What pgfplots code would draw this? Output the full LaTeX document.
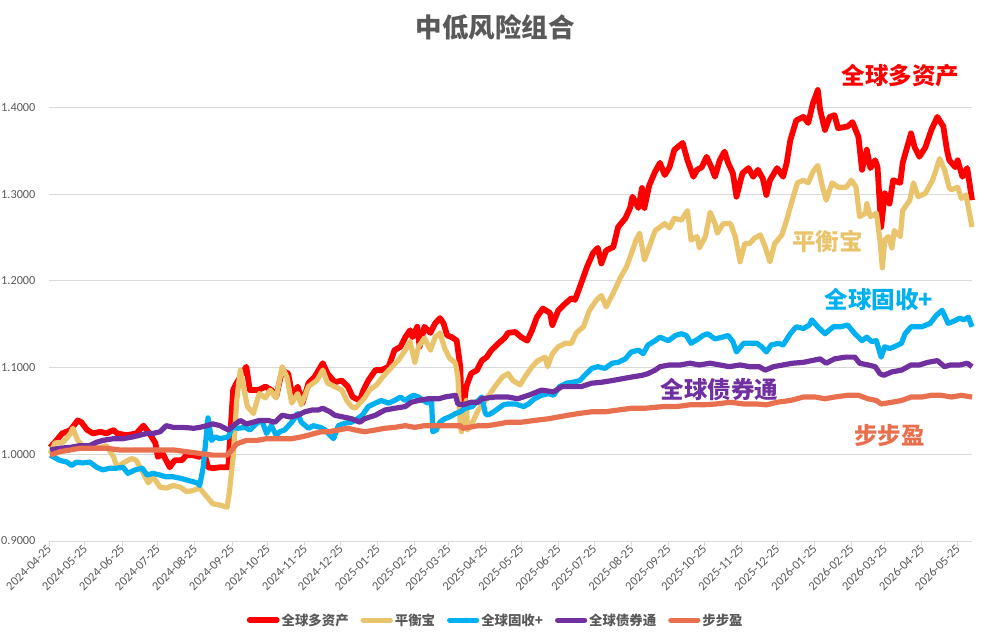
\documentclass[border=0pt]{standalone}
\usepackage{pgfplots}
\pgfplotsset{compat=1.18}
\usepackage{fontspec}
\setmainfont{Carlito}
\newfontfamily\cjk{Noto Sans CJK SC}
\definecolor{sred}{HTML}{FF0000}
\definecolor{sgold}{HTML}{E9C46C}
\definecolor{scyan}{HTML}{00B0F0}
\definecolor{spurple}{HTML}{7030A0}
\definecolor{sorange}{HTML}{E8704F}
\definecolor{labelgray}{HTML}{595959}
\definecolor{gridgray}{HTML}{D9D9D9}
\begin{document}
\begin{tikzpicture}
\path[use as bounding box] (-49pt,-91pt) rectangle (941pt,541pt);
\node[font=\cjk\bfseries\fontsize{26.5}{30}\selectfont, text=labelgray] at (446pt,514pt) {中低风险组合};
\begin{axis}[
  at={(0pt,0pt)}, anchor=south west,
  scale only axis, width=923pt, height=477pt,
  xmin=0, xmax=772, ymin=0.9, ymax=1.45,
  axis x line*=bottom, axis y line*=left,
  x axis line style={-, draw=gridgray, line width=0.8pt},
  y axis line style={draw=none},
  ytick={0.9,1.0,1.1,1.2,1.3,1.4},
  ymajorgrids, grid style={draw=gridgray, line width=0.8pt},
  ytick style={draw=none},
  yticklabel style={/pgf/number format/.cd, fixed, fixed zerofill, precision=4, assume math mode=true,
    /tikz/.cd, font=\fontsize{12.3}{14}\selectfont, text=labelgray, xshift=-5pt},
  xtick={0,30,61,91,122,153,183,214,244,275,306,334,365,395,426,456,487,518,548,579,609,640,671,699,730,760},
  xticklabels={2024-04-25,2024-05-25,2024-06-25,2024-07-25,2024-08-25,2024-09-25,2024-10-25,2024-11-25,2024-12-25,2025-01-25,2025-02-25,2025-03-25,2025-04-25,2025-05-25,2025-06-25,2025-07-25,2025-08-25,2025-09-25,2025-10-25,2025-11-25,2025-12-25,2026-01-25,2026-02-25,2026-03-25,2026-04-25,2026-05-25},
  xticklabel style={rotate=45, anchor=east, font=\fontsize{12.5}{14}\selectfont, text=labelgray, xshift=3pt, yshift=-1pt},
  tick align=outside, major tick length=5pt,
  xtick style={draw=gridgray, line width=0.8pt},
  legend style={at={(0.484,-0.166)}, anchor=center, legend columns=5, draw=none, fill=none,
    font=\cjk\bfseries\fontsize{13.4}{16}\selectfont, text=labelgray,
    /tikz/every even column/.append style={column sep=10pt}},
  legend image code/.code={\draw[#1, line cap=round] (0pt,0pt) -- (27pt,0pt);},
  every axis plot/.append style={line width=5.2pt, line join=round},
  clip=false,
]
% 全球多资产
\addplot[sred, line width=5.8pt] coordinates {
(1,1.008)(5,1.014)(11,1.024)(18,1.028)(24,1.039)(27,1.037)(32,1.028)(37,1.024)(43,1.026)(48,1.024)
(54,1.028)(57,1.024)(65,1.022)(73,1.024)(79,1.033)(84,1.024)(89,1.013)(91,0.997)(95,1.001)(101,0.985)
(105,0.993)(111,0.993)(115,0.999)(120,0.999)(126,0.997)(130,1.001)(133,0.985)(137,0.984)(143,0.985)(150,0.985)
(151,1.008)(154,1.074)(156,1.080)(165,1.101)(168,1.074)(175,1.074)(181,1.078)(186,1.074)(190,1.066)(195,1.097)
(200,1.093)(204,1.065)(208,1.078)(212,1.059)(217,1.082)(222,1.089)(229,1.105)(233,1.093)(239,1.083)(245,1.085)
(250,1.078)(254,1.066)(260,1.062)(263,1.074)(267,1.085)(273,1.097)(278,1.097)(284,1.101)(289,1.120)(294,1.124)
(298,1.135)(302,1.143)(304,1.135)(308,1.147)(310,1.124)(314,1.147)(319,1.140)(323,1.151)(327,1.157)(330,1.151)
(333,1.137)(337,1.135)(341,1.131)(344,1.101)(345,1.055)(346,1.047)(349,1.078)(353,1.093)(358,1.097)(362,1.108)
(366,1.112)(370,1.120)(376,1.128)(381,1.134)(384,1.140)(390,1.141)(395,1.135)(400,1.131)(404,1.143)(408,1.158)
(413,1.168)(419,1.163)(421,1.149)(426,1.166)(432,1.174)(437,1.180)(440,1.178)(444,1.193)(450,1.216)(455,1.232)
(459,1.238)(462,1.220)(466,1.235)(472,1.239)(476,1.262)(482,1.272)(486,1.284)(488,1.297)(493,1.284)(496,1.307)
(498,1.284)(502,1.310)(507,1.326)(511,1.336)(515,1.322)(519,1.331)(523,1.351)(530,1.359)(534,1.339)(539,1.320)
(542,1.328)(546,1.331)(550,1.343)(554,1.331)(557,1.320)(561,1.339)(565,1.349)(568,1.336)(572,1.324)(575,1.297)
(580,1.324)(585,1.330)(589,1.320)(593,1.328)(597,1.318)(600,1.299)(603,1.316)(609,1.330)(614,1.320)(617,1.336)
(620,1.362)(625,1.385)(631,1.389)(635,1.382)(639,1.405)(643,1.420)(645,1.397)(649,1.374)(653,1.389)(657,1.391)
(660,1.376)(668,1.378)(672,1.383)(677,1.366)(680,1.328)(684,1.351)(687,1.330)(691,1.339)(693,1.331)(696,1.262)
(699,1.301)(703,1.289)(706,1.316)(712,1.313)(714,1.336)(721,1.370)(724,1.354)(728,1.343)(733,1.354)(738,1.374)
(743,1.389)(748,1.378)(751,1.351)(753,1.339)(758,1.331)(760,1.339)(764,1.320)(768,1.330)(772,1.293)
};
\addlegendentry{全球多资产}
% 平衡宝
\addplot[sgold] coordinates {
(1,1.001)(5,1.013)(12,1.014)(18,1.024)(20,1.030)(24,1.016)(28,1.010)(34,1.008)(43,1.008)(48,1.010)
(54,0.997)(57,0.985)(62,0.990)(69,0.995)(73,0.993)(79,0.978)(83,0.967)(87,0.974)(93,0.962)(98,0.961)
(104,0.964)(110,0.962)(115,0.957)(120,0.958)(126,0.961)(132,0.951)(137,0.943)(144,0.941)(149,0.939)(151,0.958)
(154,0.997)(157,1.062)(160,1.097)(162,1.082)(166,1.055)(171,1.047)(174,1.062)(176,1.070)(181,1.065)(185,1.074)
(190,1.065)(195,1.101)(199,1.089)(203,1.059)(208,1.070)(211,1.057)(217,1.078)(224,1.085)(229,1.097)(233,1.082)
(239,1.078)(245,1.074)(249,1.062)(253,1.055)(256,1.053)(260,1.059)(264,1.065)(268,1.074)(274,1.080)(279,1.089)
(287,1.101)(292,1.108)(298,1.120)(302,1.130)(306,1.106)(309,1.124)(314,1.134)(319,1.120)(323,1.135)(327,1.140)
(331,1.122)(335,1.111)(340,1.105)(342,1.089)(344,1.031)(345,1.026)(348,1.051)(349,1.062)(350,1.028)(355,1.039)
(359,1.051)(365,1.062)(369,1.070)(373,1.078)(379,1.089)(384,1.093)(388,1.085)(394,1.080)(398,1.089)(404,1.101)
(409,1.108)(415,1.112)(417,1.101)(421,1.116)(426,1.124)(432,1.128)(437,1.128)(441,1.140)(447,1.147)(452,1.166)
(458,1.178)(462,1.183)(466,1.170)(472,1.186)(478,1.204)(483,1.216)(488,1.235)(491,1.247)(494,1.255)(498,1.224)
(502,1.239)(507,1.258)(511,1.262)(515,1.266)(519,1.261)(523,1.272)(529,1.270)(534,1.281)(537,1.247)(542,1.251)
(544,1.238)(549,1.251)(553,1.279)(557,1.266)(559,1.255)(564,1.266)(570,1.266)(574,1.251)(578,1.222)(582,1.243)
(586,1.243)(590,1.249)(595,1.253)(599,1.239)(603,1.222)(607,1.243)(613,1.253)(617,1.270)(621,1.290)(626,1.313)
(631,1.316)(635,1.313)(639,1.326)(643,1.333)(647,1.308)(650,1.293)(655,1.313)(660,1.308)(667,1.308)(671,1.316)
(675,1.308)(678,1.274)(683,1.278)(684,1.289)(687,1.274)(692,1.278)(695,1.247)(697,1.215)(699,1.247)(702,1.251)
(705,1.238)(707,1.258)(712,1.251)(714,1.281)(720,1.293)(723,1.313)(727,1.297)(733,1.301)(739,1.316)(745,1.341)
(749,1.328)(753,1.307)(755,1.305)(760,1.308)(763,1.295)(767,1.299)(772,1.262)
};
\addlegendentry{平衡宝}
% 全球固收+
\addplot[scyan] coordinates {
(1,0.999)(9,0.993)(15,0.991)(19,0.987)(23,0.991)(28,0.990)(34,0.991)(40,0.985)(45,0.982)(51,0.984)
(57,0.984)(62,0.985)(66,0.978)(72,0.982)(78,0.984)(82,0.976)(87,0.978)(93,0.976)(98,0.974)(104,0.974)
(111,0.972)(116,0.970)(124,0.967)(126,0.964)(129,0.985)(133,1.042)(136,1.016)(139,1.020)(143,1.018)(150,1.020)
(153,1.031)(158,1.030)(164,1.031)(168,1.028)(174,1.036)(178,1.039)(182,1.024)(186,1.033)(190,1.022)(193,1.026)
(197,1.028)(203,1.037)(208,1.047)(211,1.037)(217,1.030)(221,1.033)(227,1.031)(231,1.028)(235,1.022)(238,1.018)
(242,1.033)(248,1.036)(253,1.037)(256,1.039)(262,1.045)(267,1.055)(273,1.059)(278,1.062)(284,1.059)(289,1.062)
(294,1.066)(298,1.062)(302,1.066)(305,1.068)(309,1.066)(313,1.062)(317,1.059)(320,1.062)(321,1.026)(324,1.028)
(327,1.037)(331,1.041)(335,1.043)(340,1.047)(344,1.049)(348,1.053)(354,1.055)(359,1.062)(362,1.066)(365,1.047)
(367,1.045)(372,1.049)(376,1.053)(380,1.057)(384,1.058)(390,1.058)(397,1.055)(401,1.058)(406,1.064)(412,1.068)
(418,1.070)(422,1.068)(427,1.078)(433,1.082)(438,1.083)(444,1.085)(448,1.091)(454,1.099)(459,1.101)(465,1.099)
(471,1.105)(476,1.106)(482,1.110)(487,1.118)(493,1.120)(497,1.116)(501,1.126)(507,1.131)(511,1.135)(518,1.131)
(524,1.137)(529,1.139)(533,1.137)(537,1.128)(543,1.133)(547,1.137)(551,1.139)(557,1.133)(563,1.135)(568,1.137)
(572,1.130)(575,1.118)(581,1.128)(586,1.128)(592,1.128)(596,1.124)(600,1.118)(604,1.126)(610,1.128)(614,1.126)
(620,1.139)(625,1.147)(631,1.145)(636,1.149)(638,1.155)(643,1.147)(649,1.139)(656,1.147)(662,1.147)(668,1.149)
(674,1.139)(680,1.131)(684,1.135)(688,1.130)(692,1.131)(696,1.112)(699,1.124)(703,1.122)(707,1.124)(713,1.128)
(716,1.139)(721,1.147)(730,1.147)(737,1.151)(742,1.160)(747,1.166)(752,1.151)(756,1.153)(762,1.157)(765,1.155)
(769,1.158)(772,1.147)
};
\addlegendentry{全球固收+}
% 全球债券通
\addplot[spurple] coordinates {
(1,1.005)(9,1.007)(18,1.008)(26,1.010)(34,1.010)(40,1.014)(45,1.016)(54,1.018)(62,1.018)(70,1.020)
(76,1.022)(82,1.024)(87,1.024)(93,1.026)(98,1.033)(104,1.031)(112,1.031)(121,1.030)(126,1.031)(132,1.033)
(137,1.035)(143,1.033)(150,1.028)(156,1.035)(160,1.039)(165,1.035)(171,1.037)(176,1.039)(183,1.039)(189,1.037)
(195,1.045)(202,1.043)(208,1.045)(214,1.049)(220,1.051)(225,1.051)(229,1.053)(235,1.049)(239,1.045)(246,1.043)
(253,1.041)(260,1.037)(264,1.041)(273,1.045)(281,1.051)(289,1.053)(298,1.055)(303,1.060)(309,1.062)(317,1.064)
(326,1.064)(331,1.066)(340,1.068)(342,1.058)(346,1.057)(353,1.060)(359,1.060)(362,1.064)(373,1.066)(384,1.066)
(392,1.064)(401,1.068)(412,1.074)(422,1.072)(429,1.078)(437,1.078)(445,1.078)(454,1.082)(462,1.083)(471,1.085)
(479,1.087)(487,1.089)(496,1.091)(501,1.093)(507,1.097)(511,1.101)(519,1.103)(528,1.103)(536,1.105)(544,1.103)
(553,1.105)(561,1.103)(569,1.101)(578,1.103)(586,1.101)(594,1.101)(599,1.097)(606,1.101)(614,1.103)(622,1.105)
(631,1.106)(638,1.108)(645,1.110)(650,1.105)(657,1.110)(666,1.112)(674,1.112)(678,1.105)(685,1.103)(691,1.101)
(695,1.093)(698,1.091)(705,1.095)(713,1.097)(721,1.103)(728,1.103)(735,1.106)(743,1.108)(749,1.101)(754,1.103)
(762,1.103)(768,1.105)(772,1.101)
};
\addlegendentry{全球债券通}
% 步步盈
\addplot[sorange] coordinates {
(1,0.999)(9,1.003)(18,1.005)(26,1.007)(37,1.007)(48,1.007)(59,1.005)(82,1.005)(104,1.005)(115,1.003)
(126,1.001)(137,0.999)(149,0.999)(153,1.005)(157,1.012)(165,1.016)(174,1.016)(182,1.018)(192,1.018)(203,1.018)
(211,1.020)(217,1.022)(222,1.024)(228,1.026)(234,1.026)(242,1.028)(250,1.030)(256,1.028)(264,1.026)(273,1.028)
(281,1.030)(289,1.031)(298,1.033)(306,1.031)(314,1.033)(331,1.033)(344,1.033)(346,1.030)(351,1.031)(359,1.033)
(367,1.033)(376,1.035)(384,1.037)(395,1.037)(406,1.039)(418,1.041)(426,1.043)(434,1.045)(443,1.047)(454,1.049)
(465,1.049)(476,1.051)(487,1.053)(498,1.053)(514,1.055)(525,1.055)(536,1.057)(547,1.057)(558,1.058)(570,1.060)
(581,1.058)(592,1.058)(600,1.057)(609,1.060)(620,1.062)(631,1.066)(641,1.066)(649,1.064)(657,1.066)(668,1.068)
(677,1.068)(685,1.064)(692,1.062)(696,1.058)(705,1.060)(713,1.062)(721,1.066)(730,1.066)(738,1.068)(746,1.068)
(755,1.066)(763,1.068)(772,1.066)
};
\addlegendentry{步步盈}
\node[font=\cjk\bfseries\fontsize{23.5}{26}\selectfont, text=sred] at (axis cs:712,1.437) {全球多资产};
\node[font=\cjk\bfseries\fontsize{23.5}{26}\selectfont, text=sgold] at (axis cs:651,1.245) {平衡宝};
\node[font=\cjk\bfseries\fontsize{23.5}{26}\selectfont, text=scyan] at (axis cs:694,1.178) {全球固收+};
\node[font=\cjk\bfseries\fontsize{23.5}{26}\selectfont, text=spurple] at (axis cs:561,1.075) {全球债券通};
\node[font=\cjk\bfseries\fontsize{23.5}{26}\selectfont, text=sorange] at (axis cs:703,1.022) {步步盈};
\end{axis}
\end{tikzpicture}
\end{document}
